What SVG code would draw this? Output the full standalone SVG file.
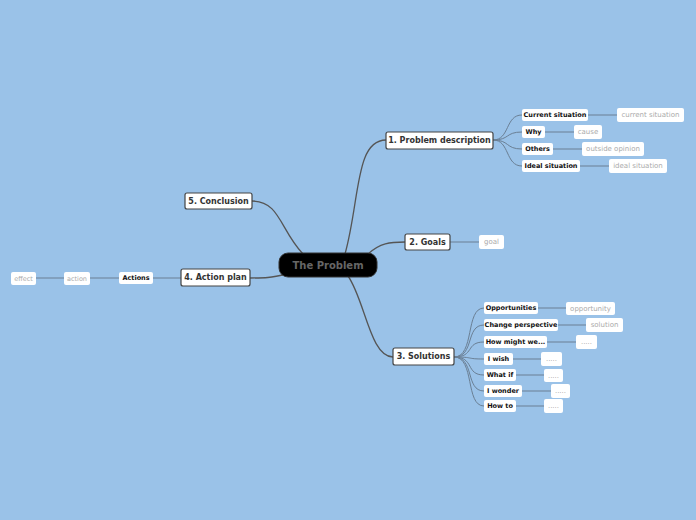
<svg xmlns="http://www.w3.org/2000/svg" width="696" height="520" viewBox="0 0 696 520">
<style>
text{font-family:"DejaVu Sans",sans-serif;font-weight:bold;text-anchor:middle;dominant-baseline:central}
.m rect{fill:#fff;stroke:#444;stroke-width:1.2}
.m text{font-size:8px;fill:#333}
.s rect{fill:#fff}
.s text{font-size:6.5px;fill:#111}
.l rect{fill:#fff}
.l text{font-size:7px;fill:#aaa;font-weight:normal}
.c path{fill:none;stroke:#555;stroke-width:1.3}
.c .t{stroke:#6a7f94;stroke-width:1}
</style>
<rect width="696" height="520" fill="#9ac2e8"/>
<g class="c">
<path d="M345 254 C360 200 355 140 386 140"/>
<path d="M368 254 C380 243 390 242 405 242"/>
<path d="M348 276 C365 300 370 357 393 357"/>
<path d="M287 274 C270 278 265 278 250 278"/>
<path d="M303 254 C280 230 280 201 252 201"/>
<path class="t" d="M493 140 C510 140 505 115 522 115 M493 140 C510 140 505 132 522 132 M493 140 C510 140 505 149 522 149 M493 140 C510 140 505 166 522 166"/>
<path class="t" d="M588 115 H617 M545 132 H574 M553 149 H582 M580 166 H609 M450 242 H479"/>
<path class="t" d="M454 357 C475 357 465 308 484 308 M454 357 C475 357 465 325 484 325 M454 357 C475 357 465 342 484 342 M454 357 C475 357 465 359 484 359 M454 357 C475 357 465 375 484 375 M454 357 C475 357 465 391 484 391 M454 357 C475 357 465 406 484 406"/>
<path class="t" d="M538 308 H566 M558 325 H586 M547 342 H576 M513 359 H541 M516 375 H544 M522 391 H551 M516 406 H544"/>
<path class="t" d="M181 278 H153 M119 278 H90 M64 278 H36"/>
</g>
<g id="center"><rect x="279" y="253" width="98" height="24" rx="9" fill="#000" stroke="#333"/><text x="328" y="265.5" font-size="10" fill="#666" style="fill:#666">The Problem</text></g>
<g id="n1" class="m"><rect x="386" y="132" width="107" height="17" rx="2"/><text x="439.5" y="140.5">1. Problem description</text></g>
<g id="n2" class="m"><rect x="405" y="234" width="45" height="16" rx="2"/><text x="427.5" y="242">2. Goals</text></g>
<g id="n3" class="m"><rect x="393" y="348" width="61" height="17" rx="2"/><text x="423.5" y="356.5">3. Solutions</text></g>
<g id="n4" class="m"><rect x="181" y="269" width="69" height="17" rx="2"/><text x="215.5" y="277.5">4. Action plan</text></g>
<g id="n5" class="m"><rect x="185" y="193" width="67" height="16" rx="2"/><text x="218.5" y="201">5. Conclusion</text></g>
<g id="s1" class="s"><rect x="522" y="109" width="66" height="12" rx="2"/><text x="555" y="115">Current situation</text></g>
<g id="s2" class="s"><rect x="522" y="126" width="23" height="12" rx="2"/><text x="533.5" y="132">Why</text></g>
<g id="s3" class="s"><rect x="522" y="143" width="31" height="12" rx="2"/><text x="537.5" y="149">Others</text></g>
<g id="s4" class="s"><rect x="522" y="160" width="58" height="12" rx="2"/><text x="551" y="166">Ideal situation</text></g>
<g id="l1" class="l"><rect x="617" y="108" width="67" height="14" rx="2"/><text x="650.5" y="115">current situation</text></g>
<g id="l2" class="l"><rect x="574" y="125" width="28" height="14" rx="2"/><text x="588" y="132">cause</text></g>
<g id="l3" class="l"><rect x="582" y="142" width="62" height="14" rx="2"/><text x="613" y="149">outside opinion</text></g>
<g id="l4" class="l"><rect x="609" y="159" width="58" height="14" rx="2"/><text x="638" y="166">ideal situation</text></g>
<g id="l5" class="l"><rect x="479" y="235" width="25" height="14" rx="2"/><text x="491.5" y="242">goal</text></g>
<g id="s5" class="s"><rect x="484" y="302" width="54" height="12" rx="2"/><text x="511" y="308">Opportunities</text></g>
<g id="s6" class="s"><rect x="484" y="319" width="74" height="12" rx="2"/><text x="521" y="325">Change perspective</text></g>
<g id="s7" class="s"><rect x="484" y="336" width="63" height="12" rx="2"/><text x="515.5" y="342">How might we...</text></g>
<g id="s8" class="s"><rect x="484" y="353" width="29" height="12" rx="2"/><text x="498.5" y="359">I wish</text></g>
<g id="s9" class="s"><rect x="484" y="369" width="32" height="12" rx="2"/><text x="500" y="375">What if</text></g>
<g id="s10" class="s"><rect x="484" y="385" width="38" height="12" rx="2"/><text x="503" y="391">I wonder</text></g>
<g id="s11" class="s"><rect x="484" y="400" width="32" height="12" rx="2"/><text x="500" y="406">How to</text></g>
<g id="l6" class="l"><rect x="566" y="302" width="49" height="13" rx="2"/><text x="590.5" y="308.5">opportunity</text></g>
<g id="l7" class="l"><rect x="586" y="318" width="37" height="14" rx="2"/><text x="604.5" y="325">solution</text></g>
<g id="l8" class="l"><rect x="576" y="335" width="21" height="14" rx="2"/><text x="586.5" y="342">.....</text></g>
<g id="l9" class="l"><rect x="541" y="352" width="21" height="14" rx="2"/><text x="551.5" y="359">.....</text></g>
<g id="l10" class="l"><rect x="544" y="369" width="19" height="13" rx="2"/><text x="553.5" y="375.5">.....</text></g>
<g id="l11" class="l"><rect x="551" y="384" width="19" height="14" rx="2"/><text x="560.5" y="391">.....</text></g>
<g id="l12" class="l"><rect x="544" y="399" width="19" height="14" rx="2"/><text x="553.5" y="406">.....</text></g>
<g id="s12" class="s"><rect x="119" y="272" width="34" height="12" rx="2"/><text x="136" y="278">Actions</text></g>
<g id="l13" class="l"><rect x="64" y="272" width="26" height="13" rx="2"/><text x="77" y="278.5" style="font-size:6.5px">action</text></g>
<g id="l14" class="l"><rect x="11" y="272" width="25" height="13" rx="2"/><text x="23.5" y="278.5" style="font-size:6.5px">effect</text></g>
</svg>
